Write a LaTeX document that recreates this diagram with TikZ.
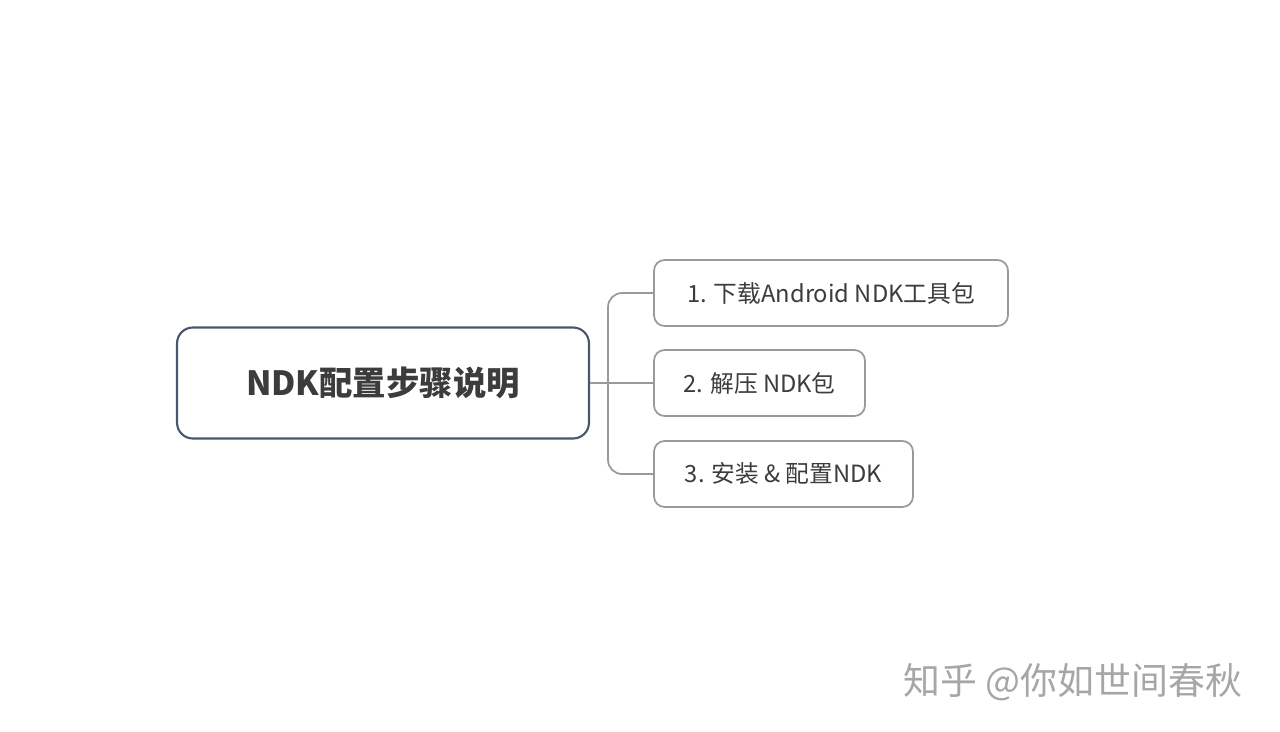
\documentclass[tikz,border=0pt]{standalone}
\usepackage{fontspec}
\setmainfont{Noto Sans CJK SC}
\usetikzlibrary{positioning}
\begin{document}
\begin{tikzpicture}[x=0.02cm, y=-0.02cm,
    root/.style = {draw=rootblue, line width=1.2pt, rounded corners=9pt, minimum width=8.24cm, minimum height=2.22cm, font=\fontsize{19}{22}\selectfont\bfseries, text=textgray},
    sub/.style = {draw=boxgray, line width=1pt, rounded corners=6pt, minimum height=1.32cm, inner xsep=0pt, font=\fontsize{13.5}{16}\selectfont, text=textgray}]
    \definecolor{rootblue}{HTML}{4A5670}
    \definecolor{boxgray}{HTML}{9A9A9A}
    \definecolor{textgray}{HTML}{3C3C3C}
    \useasboundingbox (0,0) rectangle (1280,731);

    \node[root] (ndk) at (383, 383) {NDK配置步骤说明};
    \node[sub, minimum width=7.08cm] (s1) at (831, 293) {1. 下载Android NDK工具包};
    \node[sub, minimum width=4.22cm] (s2) at (759.5, 383) {2. 解压 NDK包};
    \node[sub, minimum width=5.18cm] (s3) at (783.5, 474) {3. 安装 \& 配置NDK};
    \coordinate (fork) at (608, 383);

    \draw[boxgray, line width=1pt] (ndk.east) -- (s2.west);
    \draw[boxgray, line width=1pt, rounded corners=8pt] (s1.west) -| (fork) |- (s3.west);

    \node[text=gray!70, font=\fontsize{21}{24}\selectfont] (mark) at (1073, 682) {知乎 @你如世间春秋};
\end{tikzpicture}
\end{document}
